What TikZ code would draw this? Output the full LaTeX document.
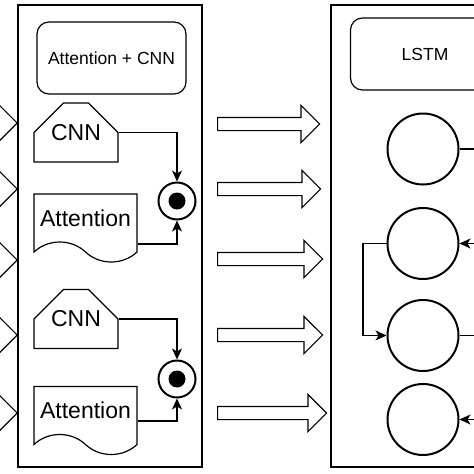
\documentclass[tikz,border=0pt]{standalone}
\usepackage{fontspec}
\setmainfont{Liberation Sans}
\usetikzlibrary{shapes.misc,shapes.symbols,shapes.arrows,arrows.meta}

\tikzset{
  frame/.style={draw, line width=1.2pt},
  titlebox/.style={draw, line width=1.2pt, rounded corners=12pt, minimum width=149pt, minimum height=72pt, font=\fontsize{17.5}{20}\selectfont},
  cnnbox/.style={chamfered rectangle, chamfered rectangle corners={north west,north east}, chamfered rectangle xsep=24pt, chamfered rectangle ysep=18pt, draw, line width=1.2pt, minimum width=84pt, minimum height=51pt, font=\fontsize{23}{26}\selectfont},
  docbox/.style={tape, tape bend top=none, tape bend bottom=out and in, tape bend height=20pt, draw, line width=1.2pt, minimum width=103pt, minimum height=68pt, font=\fontsize{23}{26}\selectfont},
  mult/.style={circle, draw, line width=2pt, minimum size=37pt, inner sep=0pt, path picture={\fill (path picture bounding box.center) circle (8.5pt);}},
  cell/.style={circle, draw, line width=2pt, minimum size=71pt},
  blk/.style={single arrow, draw, line width=1.2pt, single arrow head extend=12pt, inner sep=6pt, single arrow tip angle=90},
  link/.style={line width=1.3pt, -{Stealth[length=11pt,width=10pt,inset=3pt]}},
}

\begin{document}
\begin{tikzpicture}[x=1pt,y=-1pt]
\useasboundingbox (0,0) rectangle (474,474);
\clip (0,0) rectangle (474,474);
% inputs from the left
\node[blk, minimum height=60pt, anchor=tip] (inA) at (18,123) {};
\node[blk, minimum height=60pt, anchor=tip] (inB) at (18,189) {};
\node[blk, minimum height=60pt, anchor=tip] (inC) at (18,260) {};
\node[blk, minimum height=60pt, anchor=tip] (inD) at (18,335) {};
\node[blk, minimum height=60pt, anchor=tip] (inE) at (18,413) {};
% attention + cnn block
\draw[frame] (18,5) rectangle (202,467);
\node[titlebox] (mix) at (111.5,58) {Attention + CNN};
\node[cnnbox] (cnnA) at (76,132.5) {CNN};
\node[docbox] (attA) at (85.5,218) {Attention};
\node[mult] (dotA) at (177,201) {};
\node[cnnbox] (cnnB) at (76,319) {CNN};
\node[docbox] (attB) at (85.5,410.5) {Attention};
\node[mult] (dotB) at (177,379) {};
\draw[link] (cnnA.east) -| (dotA.north);
\draw[link] ([yshift=-26pt]attA.east) -| (dotA.south);
\draw[link] (cnnB.east) -| (dotB.north);
\draw[link] ([yshift=-10.5pt]attB.east) -| (dotB.south);
% block arrows between
\node[blk, minimum height=102pt, anchor=tail] (fwA) at (217,124) {};
\node[blk, minimum height=103pt, anchor=tail] (fwB) at (217,189) {};
\node[blk, minimum height=105pt, anchor=tail] (fwC) at (217,259) {};
\node[blk, minimum height=105pt, anchor=tail] (fwD) at (217,335) {};
\node[blk, minimum height=109pt, anchor=tail] (fwE) at (217,413) {};
% lstm block
\draw[frame] (520,5) -- (331,5) -- (331,467) -- (520,467);
\node[titlebox] (lstm) at (425,54) {LSTM};
\node[cell] (hA) at (423,149) {};
\node[cell] (hB) at (423,243.5) {};
\node[cell] (hC) at (423,335.5) {};
\node[cell] (hD) at (423,419.5) {};
\coordinate (outA) at (490,149);
\coordinate (outB) at (490,243.5);
\coordinate (outC) at (490,335.5);
\coordinate (outD) at (490,419.5);
\draw[line width=1.3pt] (hA.east) -- (outA);
\draw[link] (outB) -- (hB.east);
\draw[link] (hB.west) -- ++(-23.5,0) |- (hC.west);
\draw[line width=1.3pt] (hC.east) -- (outC);
\draw[link] (outD) -- (hD.east);
\end{tikzpicture}
\end{document}
